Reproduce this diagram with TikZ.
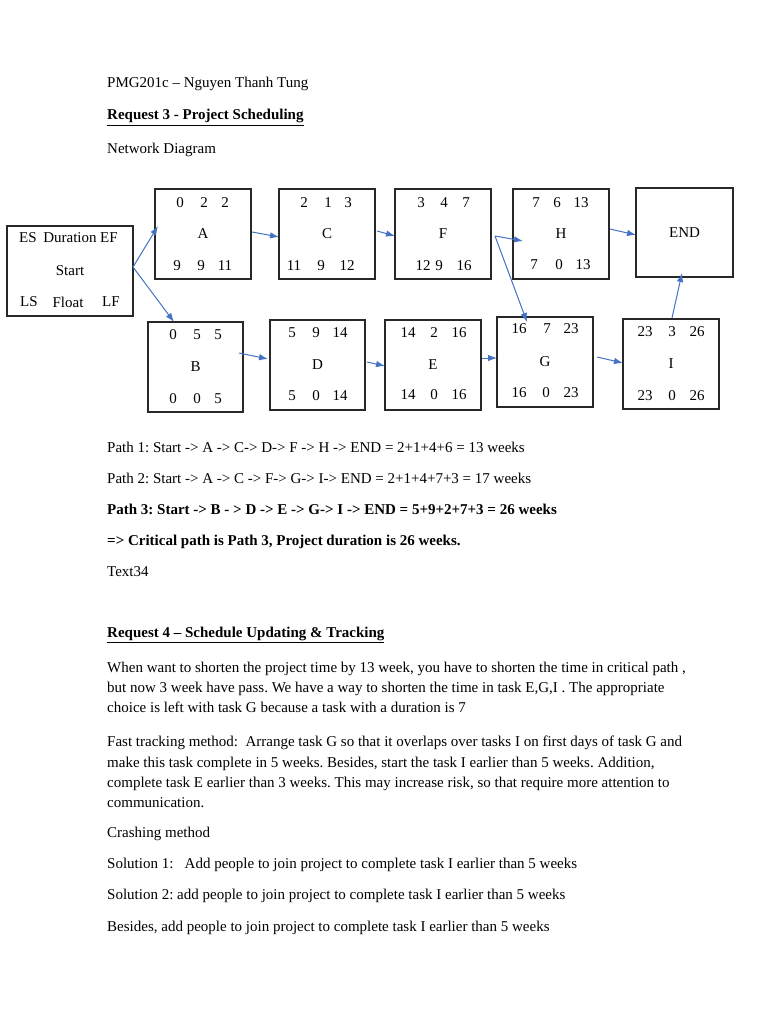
\documentclass[tikz,border=0pt]{standalone}
\usepackage{fontspec}
\setmainfont{Liberation Serif}
\usetikzlibrary{arrows.meta}
\definecolor{arrowblue}{RGB}{68,114,196}
\definecolor{boxline}{RGB}{40,40,40}
\frenchspacing
\begin{document}
\frenchspacing
\begin{tikzpicture}[x=1pt,y=-1pt,
  box/.style={draw=boxline, line width=1.3pt, inner sep=0pt, font=\fontsize{15}{18}\selectfont},
  num/.style={inner sep=0pt, font=\fontsize{15}{18}\selectfont},
  txt/.style={inner sep=0pt, anchor=base west, font=\fontsize{15}{18}\selectfont\frenchspacing},
  conn/.style={draw=arrowblue, line width=1pt, -{Latex[length=9pt,width=6.5pt]}}]
\useasboundingbox[fill=white] (0,0) rectangle (768,1024);

% header text
\node[txt] (t1) at (107,88) {PMG201c – Nguyen Thanh Tung};
\node[txt] (t2) at (107,120) {\bfseries\underline{Request 3 - Project Scheduling}};
\node[txt] (t3) at (107,154) {Network Diagram};

% boxes
\node[box, minimum width=126pt, minimum height=90pt] (Start) at (70,271) {Start};
\node[box, minimum width=96pt, minimum height=90pt] (A) at (203,234) {A};
\node[box, minimum width=96pt, minimum height=90pt] (C) at (327,234) {C};
\node[box, minimum width=96pt, minimum height=90pt] (F) at (443,234) {F};
\node[box, minimum width=96pt, minimum height=90pt] (H) at (561,234) {H};
\node[box, minimum width=97pt, minimum height=89pt] (END) at (684.5,232.5) {END};
\node[box, minimum width=95pt, minimum height=90pt] (B) at (195.5,367) {B};
\node[box, minimum width=95pt, minimum height=90pt] (D) at (317.5,365) {D};
\node[box, minimum width=96pt, minimum height=90pt] (E) at (433,365) {E};
\node[box, minimum width=96pt, minimum height=90pt] (G) at (545,362) {G};
\node[box, minimum width=96pt, minimum height=90pt] (I) at (671,364) {I};

% Start legend
\node[num] (s1) at (28,238) {ES};
\node[num] (s2) at (70,238) {Duration};
\node[num] (s3) at (109,238) {EF};
\node[num] (s4) at (29,302) {LS};
\node[num] (s5) at (68,302) {Float};
\node[num] (s6) at (111,302) {LF};

% A
\node[num] (a1) at (180,203) {0};
\node[num] (a2) at (204,203) {2};
\node[num] (a3) at (225,203) {2};
\node[num] (a4) at (177,266) {9};
\node[num] (a5) at (201,266) {9};
\node[num] (a6) at (225,266) {11};
% C
\node[num] (c1) at (304,203) {2};
\node[num] (c2) at (328,203) {1};
\node[num] (c3) at (348,203) {3};
\node[num] (c4) at (294,266) {11};
\node[num] (c5) at (321,266) {9};
\node[num] (c6) at (347,266) {12};
% F
\node[num] (f1) at (421,203) {3};
\node[num] (f2) at (444,203) {4};
\node[num] (f3) at (466,203) {7};
\node[num] (f4) at (423,266) {12};
\node[num] (f5) at (439,266) {9};
\node[num] (f6) at (464,266) {16};
% H
\node[num] (h1) at (536,203) {7};
\node[num] (h2) at (557,203) {6};
\node[num] (h3) at (581,203) {13};
\node[num] (h4) at (534,265) {7};
\node[num] (h5) at (559,265) {0};
\node[num] (h6) at (583,265) {13};
% B
\node[num] (b1) at (173,335) {0};
\node[num] (b2) at (197,335) {5};
\node[num] (b3) at (218,335) {5};
\node[num] (b4) at (173,399) {0};
\node[num] (b5) at (197,399) {0};
\node[num] (b6) at (218,399) {5};
% D
\node[num] (d1) at (292,333) {5};
\node[num] (d2) at (316,333) {9};
\node[num] (d3) at (340,333) {14};
\node[num] (d4) at (292,396) {5};
\node[num] (d5) at (316,396) {0};
\node[num] (d6) at (340,396) {14};
% E
\node[num] (e1) at (408,333) {14};
\node[num] (e2) at (434,333) {2};
\node[num] (e3) at (459,333) {16};
\node[num] (e4) at (408,395) {14};
\node[num] (e5) at (434,395) {0};
\node[num] (e6) at (459,395) {16};
% G
\node[num] (g1) at (519,329) {16};
\node[num] (g2) at (547,329) {7};
\node[num] (g3) at (571,329) {23};
\node[num] (g4) at (519,393) {16};
\node[num] (g5) at (546,393) {0};
\node[num] (g6) at (571,393) {23};
% I
\node[num] (i1) at (645,332) {23};
\node[num] (i2) at (672,332) {3};
\node[num] (i3) at (697,332) {26};
\node[num] (i4) at (645,396) {23};
\node[num] (i5) at (672,396) {0};
\node[num] (i6) at (697,396) {26};

% connector end points
\coordinate (sa0) at (133,267);
\coordinate (sa1) at (158,226);
\coordinate (sb1) at (174,322);
\coordinate (ac0) at (252,232);
\coordinate (ac1) at (279,237);
\coordinate (cf0) at (377,231);
\coordinate (cf1) at (395,236);
\coordinate (fh0) at (495,236);
\coordinate (fh1) at (523,241);
\coordinate (fg1) at (527,322);
\coordinate (he0) at (610,229);
\coordinate (he1) at (636,235);
\coordinate (bd0) at (239,353);
\coordinate (bd1) at (268,359);
\coordinate (de0) at (367,362);
\coordinate (de1) at (385,366);
\coordinate (eg0) at (482,358);
\coordinate (eg1) at (497,358);
\coordinate (gi0) at (597,357);
\coordinate (gi1) at (623,363);
\coordinate (ie0) at (672,318);
\coordinate (ie1) at (682,273);

\draw[conn] (sa0) -- (sa1);
\draw[conn] (sa0) -- (sb1);
\draw[conn] (ac0) -- (ac1);
\draw[conn] (cf0) -- (cf1);
\draw[conn] (fh0) -- (fh1);
\draw[conn] (fh0) -- (fg1);
\draw[conn] (he0) -- (he1);
\draw[conn] (bd0) -- (bd1);
\draw[conn] (de0) -- (de1);
\draw[conn] (eg0) -- (eg1);
\draw[conn] (gi0) -- (gi1);
\draw[conn] (ie0) -- (ie1);

% paths
\node[txt] (p1) at (107,452) {Path 1: Start -> A -> C-> D-> F -> H -> END = 2+1+4+6 = 13 weeks};
\node[txt] (p2) at (107,483) {Path 2: Start -> A -> C -> F-> G-> I-> END = 2+1+4+7+3 = 17 weeks};
\node[txt] (p3) at (107,514) {\bfseries Path 3: Start -> B - > D -> E -> G-> I -> END = 5+9+2+7+3 = 26 weeks};
\node[txt] (p4) at (107,545) {\bfseries => Critical path is Path 3, Project duration is 26 weeks.};
\node[txt] (p5) at (107,576) {Text34};

% request 4
\node[txt] (r4) at (107,637) {\bfseries\underline{Request 4 – Schedule Updating \& Tracking}};
\node[txt] (q1) at (107,672) {When want to shorten the project time by 13 week, you have to shorten the time in critical path ,};
\node[txt] (q2) at (107,692) {but now 3 week have pass. We have a way to shorten the time in task E,G,I . The appropriate};
\node[txt] (q3) at (107,712) {choice is left with task G because a task with a duration is 7};
\node[txt] (q4) at (107,746) {Fast tracking method:\ \ Arrange task G so that it overlaps over tasks I on first days of task G and};
\node[txt] (q5) at (107,767) {make this task complete in 5 weeks. Besides, start the task I earlier than 5 weeks. Addition,};
\node[txt] (q6) at (107,787) {complete task E earlier than 3 weeks. This may increase risk, so that require more attention to};
\node[txt] (q7) at (107,807) {communication.};
\node[txt] (q8) at (107,837) {Crashing method};
\node[txt] (q9) at (107,868) {Solution 1:\ \ \ Add people to join project to complete task I earlier than 5 weeks};
\node[txt] (q10) at (107,899) {Solution 2: add people to join project to complete task I earlier than 5 weeks};
\node[txt] (q11) at (107,931) {Besides, add people to join project to complete task I earlier than 5 weeks};
\end{tikzpicture}
\end{document}
